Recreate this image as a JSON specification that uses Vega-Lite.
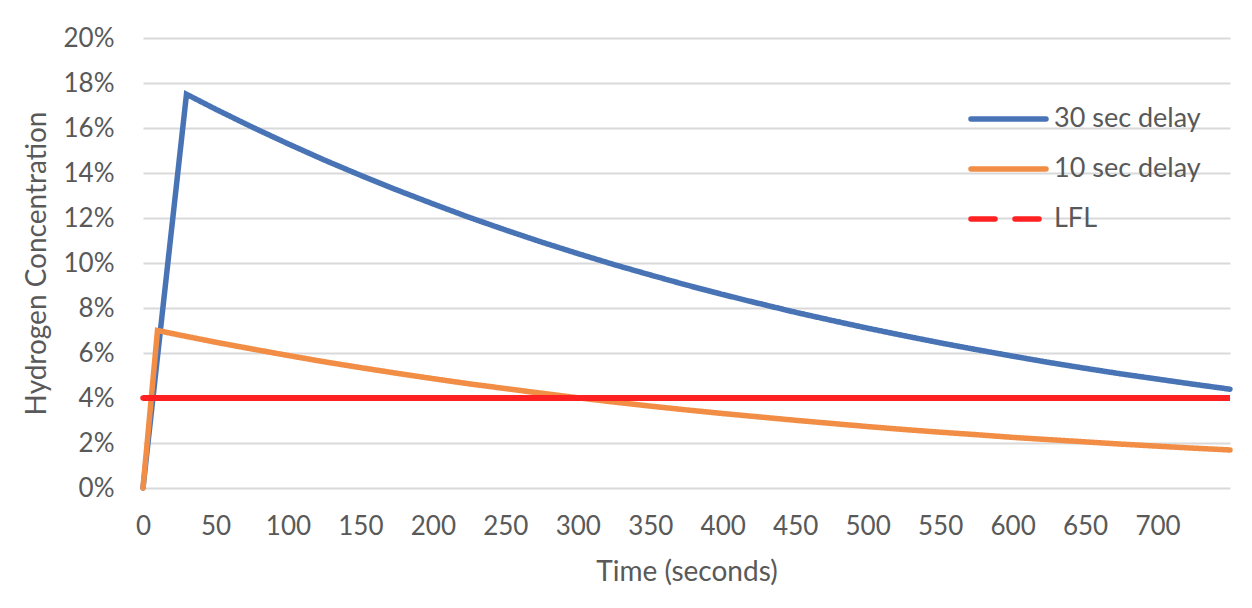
{
  "$schema": "https://vega.github.io/schema/vega-lite/v6.json",
  "autosize": {"type": "none"},
  "padding": {"left": 143, "top": 38, "right": 22, "bottom": 120},
  "width": 1087,
  "height": 450,
  "background": "white",
  "config": {
    "font": "Lato",
    "view": {"stroke": null},
    "axis": {
      "labelFont": "Lato",
      "titleFont": "Lato",
      "labelColor": "#595959",
      "titleColor": "#595959",
      "labelFontSize": 26,
      "titleFontSize": 28,
      "titleFontWeight": "normal",
      "gridColor": "#d9d9d9",
      "gridWidth": 2,
      "ticks": false,
      "domain": false
    },
    "legend": {
      "labelFont": "Lato",
      "labelFontSize": 27,
      "labelColor": "#595959"
    }
  },
  "data": {
    "values": [
      {"t": 0, "conc": 0, "series": "30 sec delay"},
      {"t": 30, "conc": 0.175, "series": "30 sec delay"},
      {"t": 50, "conc": 0.1684, "series": "30 sec delay"},
      {"t": 75, "conc": 0.1605, "series": "30 sec delay"},
      {"t": 100, "conc": 0.1530, "series": "30 sec delay"},
      {"t": 125, "conc": 0.1458, "series": "30 sec delay"},
      {"t": 150, "conc": 0.1390, "series": "30 sec delay"},
      {"t": 175, "conc": 0.1325, "series": "30 sec delay"},
      {"t": 200, "conc": 0.1263, "series": "30 sec delay"},
      {"t": 225, "conc": 0.1203, "series": "30 sec delay"},
      {"t": 250, "conc": 0.1147, "series": "30 sec delay"},
      {"t": 275, "conc": 0.1093, "series": "30 sec delay"},
      {"t": 300, "conc": 0.1042, "series": "30 sec delay"},
      {"t": 325, "conc": 0.0993, "series": "30 sec delay"},
      {"t": 350, "conc": 0.0947, "series": "30 sec delay"},
      {"t": 375, "conc": 0.0902, "series": "30 sec delay"},
      {"t": 400, "conc": 0.0860, "series": "30 sec delay"},
      {"t": 425, "conc": 0.0820, "series": "30 sec delay"},
      {"t": 450, "conc": 0.0781, "series": "30 sec delay"},
      {"t": 475, "conc": 0.0745, "series": "30 sec delay"},
      {"t": 500, "conc": 0.0710, "series": "30 sec delay"},
      {"t": 525, "conc": 0.0677, "series": "30 sec delay"},
      {"t": 550, "conc": 0.0645, "series": "30 sec delay"},
      {"t": 575, "conc": 0.0615, "series": "30 sec delay"},
      {"t": 600, "conc": 0.0586, "series": "30 sec delay"},
      {"t": 625, "conc": 0.0558, "series": "30 sec delay"},
      {"t": 650, "conc": 0.0532, "series": "30 sec delay"},
      {"t": 675, "conc": 0.0507, "series": "30 sec delay"},
      {"t": 700, "conc": 0.0484, "series": "30 sec delay"},
      {"t": 725, "conc": 0.0461, "series": "30 sec delay"},
      {"t": 750, "conc": 0.0439, "series": "30 sec delay"},

      {"t": 0, "conc": 0, "series": "10 sec delay"},
      {"t": 10, "conc": 0.070, "series": "10 sec delay"},
      {"t": 25, "conc": 0.0680, "series": "10 sec delay"},
      {"t": 50, "conc": 0.0648, "series": "10 sec delay"},
      {"t": 75, "conc": 0.0618, "series": "10 sec delay"},
      {"t": 100, "conc": 0.0589, "series": "10 sec delay"},
      {"t": 125, "conc": 0.0561, "series": "10 sec delay"},
      {"t": 150, "conc": 0.0535, "series": "10 sec delay"},
      {"t": 175, "conc": 0.0510, "series": "10 sec delay"},
      {"t": 200, "conc": 0.0486, "series": "10 sec delay"},
      {"t": 225, "conc": 0.0463, "series": "10 sec delay"},
      {"t": 250, "conc": 0.0442, "series": "10 sec delay"},
      {"t": 275, "conc": 0.0421, "series": "10 sec delay"},
      {"t": 300, "conc": 0.0401, "series": "10 sec delay"},
      {"t": 325, "conc": 0.0382, "series": "10 sec delay"},
      {"t": 350, "conc": 0.0364, "series": "10 sec delay"},
      {"t": 375, "conc": 0.0347, "series": "10 sec delay"},
      {"t": 400, "conc": 0.0331, "series": "10 sec delay"},
      {"t": 425, "conc": 0.0316, "series": "10 sec delay"},
      {"t": 450, "conc": 0.0301, "series": "10 sec delay"},
      {"t": 475, "conc": 0.0287, "series": "10 sec delay"},
      {"t": 500, "conc": 0.0273, "series": "10 sec delay"},
      {"t": 525, "conc": 0.0260, "series": "10 sec delay"},
      {"t": 550, "conc": 0.0248, "series": "10 sec delay"},
      {"t": 575, "conc": 0.0237, "series": "10 sec delay"},
      {"t": 600, "conc": 0.0225, "series": "10 sec delay"},
      {"t": 625, "conc": 0.0215, "series": "10 sec delay"},
      {"t": 650, "conc": 0.0205, "series": "10 sec delay"},
      {"t": 675, "conc": 0.0195, "series": "10 sec delay"},
      {"t": 700, "conc": 0.0186, "series": "10 sec delay"},
      {"t": 725, "conc": 0.0177, "series": "10 sec delay"},
      {"t": 750, "conc": 0.0169, "series": "10 sec delay"},

      {"t": 0, "conc": 0.04, "series": "LFL"},
      {"t": 750, "conc": 0.04, "series": "LFL"}
    ]
  },
  "layer": [
    {
      "mark": {"type": "line", "strokeWidth": 5.5, "strokeCap": "round", "strokeJoin": "miter"},
      "encoding": {
        "x": {
          "field": "t",
          "type": "quantitative",
          "title": "Time (seconds)",
          "scale": {"domain": [0, 750], "nice": false, "zero": true},
          "axis": {
            "values": [0, 50, 100, 150, 200, 250, 300, 350, 400, 450, 500, 550, 600, 650, 700],
            "grid": false,
            "labelPadding": 25,
            "titlePadding": 19,
            "labelFlush": false
          }
        },
        "y": {
          "field": "conc",
          "type": "quantitative",
          "title": "Hydrogen Concentration",
          "scale": {"domain": [0, 0.2], "nice": false},
          "axis": {
            "values": [0, 0.02, 0.04, 0.06, 0.08, 0.1, 0.12, 0.14, 0.16, 0.18, 0.2],
            "format": ".0%",
            "labelPadding": 29,
            "titlePadding": 12
          }
        },
        "color": {
          "field": "series",
          "type": "nominal",
          "title": null,
          "scale": {
            "domain": ["30 sec delay", "10 sec delay", "LFL"],
            "range": ["#4874B6", "#F28D46", "#FF2121"]
          },
          "legend": {
            "orient": "none",
            "legendX": 825,
            "legendY": 56,
            "symbolType": "stroke",
            "symbolSize": 5625,
            "symbolStrokeWidth": 5.5,
            "clipHeight": 50,
            "rowPadding": 0,
            "labelOffset": 5,
            "encode": {"symbols": {"update": {"strokeCap": {"value": "round"}}}}
          }
        },
        "strokeDash": {
          "field": "series",
          "type": "nominal",
          "scale": {
            "domain": ["30 sec delay", "10 sec delay", "LFL"],
            "range": [[1, 0], [1, 0], [24, 20]]
          },
          "legend": null
        },
        "order": {"field": "t", "type": "quantitative"}
      }
    },
    {
      "transform": [{"filter": "datum.series === 'LFL'"}],
      "mark": {"type": "line", "strokeWidth": 6, "color": "#FF2121"},
      "encoding": {
        "x": {"field": "t", "type": "quantitative"},
        "y": {"field": "conc", "type": "quantitative"}
      }
    }
  ]
}
